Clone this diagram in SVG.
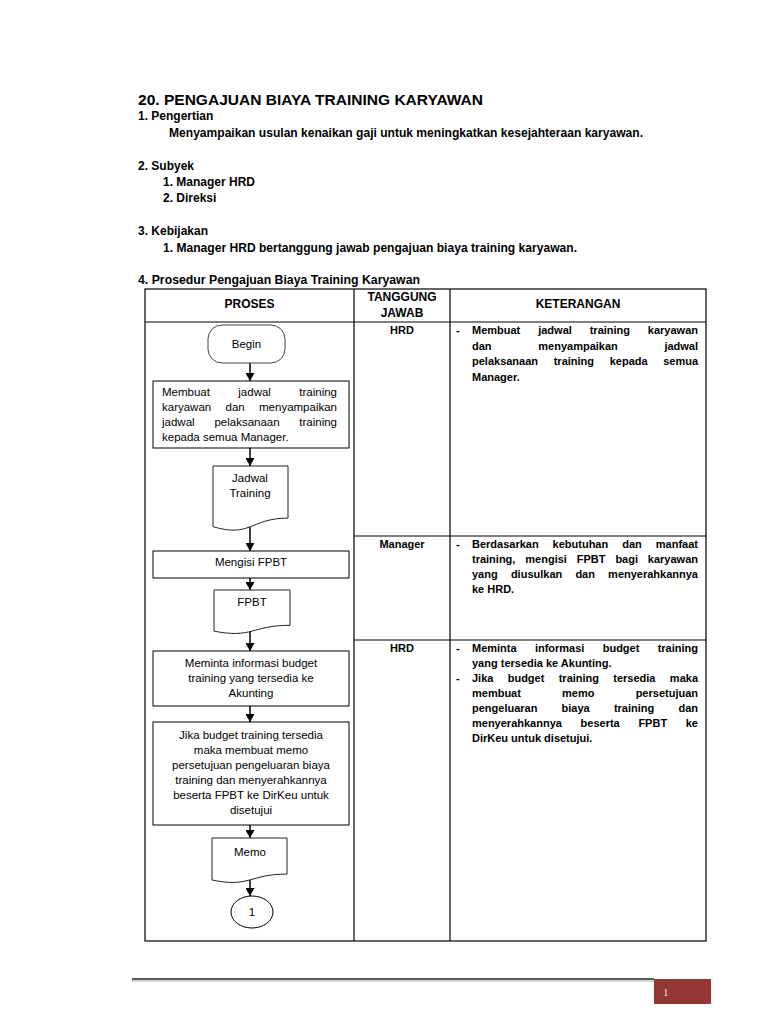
<svg xmlns="http://www.w3.org/2000/svg" width="768" height="1024" viewBox="0 0 768 1024">
<style>
text { font-family: "Liberation Sans", Arial, sans-serif; fill: #000; }
.b { font-weight: bold; }
.ti { font-size: 15.5px; font-weight: bold; }
.s { font-size: 12px; font-weight: bold; }
.h { font-size: 12px; font-weight: bold; text-anchor: middle; }
.k { font-size: 11px; font-weight: bold; }
.f { font-size: 11.5px; }
.c { text-anchor: middle; }
.e { text-anchor: end; }
.box { fill: #fff; stroke: #000; stroke-width: 1; }
.doc { fill: #fff; stroke: #222; stroke-width: 1; }
.grid { stroke: #000; stroke-width: 1.2; fill: none; }
.conn { stroke: #000; stroke-width: 1.5; fill: none; marker-end: url(#ah); }
</style>
<defs>
<marker id="ah" markerUnits="userSpaceOnUse" markerWidth="9" markerHeight="9" refX="8" refY="4.5" orient="auto">
<path d="M0,0 L8,4.5 L0,9 Z" fill="#000"/>
</marker>
</defs>
<rect width="768" height="1024" fill="#fff"/>

<g id="header-text">
<text class="ti" x="138" y="105" textLength="345" lengthAdjust="spacingAndGlyphs">20. PENGAJUAN BIAYA TRAINING KARYAWAN</text>
<text class="s" x="138" y="120">1. Pengertian</text>
<text class="s" x="169" y="137" textLength="474" lengthAdjust="spacingAndGlyphs">Menyampaikan usulan kenaikan gaji untuk meningkatkan kesejahteraan karyawan.</text>
<text class="s" x="138" y="170">2. Subyek</text>
<text class="s" x="163" y="186">1. Manager HRD</text>
<text class="s" x="163" y="202">2. Direksi</text>
<text class="s" x="138" y="235">3. Kebijakan</text>
<text class="s" x="163" y="252" textLength="414" lengthAdjust="spacingAndGlyphs">1. Manager HRD bertanggung jawab pengajuan biaya training karyawan.</text>
<text class="s" x="138" y="284" textLength="282" lengthAdjust="spacingAndGlyphs">4. Prosedur Pengajuan Biaya Training Karyawan</text>
</g>

<g id="table">
<rect class="grid" x="145" y="289" width="561" height="652"/>
<line class="grid" x1="354" y1="289" x2="354" y2="941"/>
<line class="grid" x1="450" y1="289" x2="450" y2="941"/>
<line class="grid" x1="145" y1="322" x2="706" y2="322"/>
<line class="grid" x1="354" y1="536" x2="706" y2="536"/>
<line class="grid" x1="354" y1="640" x2="706" y2="640"/>
<text class="h" x="249.5" y="308">PROSES</text>
<text class="h" x="402" y="301">TANGGUNG</text>
<text class="h" x="402" y="317">JAWAB</text>
<text class="h" x="578" y="308">KETERANGAN</text>
</g>

<g id="row1-text">
<text class="k c" x="402" y="334">HRD</text>
<text class="k" x="456" y="334">-</text>
<text class="k" x="472" y="334">Membuat</text>
<text class="k" x="538.2" y="334">jadwal</text>
<text class="k" x="589.7" y="334">training</text>
<text class="k e" x="698" y="334">karyawan</text>
<text class="k" x="472" y="350">dan</text>
<text class="k" x="538.3" y="350">menyampaikan</text>
<text class="k e" x="698" y="350">jadwal</text>
<text class="k" x="472" y="365">pelaksanaan</text>
<text class="k" x="553.7" y="365">training</text>
<text class="k" x="609.7" y="365">kepada</text>
<text class="k e" x="698" y="365">semua</text>
<text class="k" x="472" y="381">Manager.</text>
</g>

<g id="row2-text">
<text class="k c" x="402" y="548">Manager</text>
<text class="k" x="456" y="548">-</text>
<text class="k" x="472" y="548">Berdasarkan</text>
<text class="k" x="552.6" y="548">kebutuhan</text>
<text class="k" x="622.2" y="548">dan</text>
<text class="k e" x="698" y="548">manfaat</text>
<text class="k" x="472" y="563">training,</text>
<text class="k" x="525.3" y="563">mengisi</text>
<text class="k" x="576.8" y="563">FPBT</text>
<text class="k" x="615.4" y="563">bagi</text>
<text class="k e" x="698" y="563">karyawan</text>
<text class="k" x="472" y="578">yang</text>
<text class="k" x="510.9" y="578">diusulkan</text>
<text class="k" x="575.4" y="578">dan</text>
<text class="k e" x="698" y="578">menyerahkannya</text>
<text class="k" x="472" y="593">ke HRD.</text>
</g>

<g id="row3-text">
<text class="k c" x="402" y="652">HRD</text>
<text class="k" x="456" y="652">-</text>
<text class="k" x="472" y="652">Meminta</text>
<text class="k" x="534.9" y="652">informasi</text>
<text class="k" x="602.7" y="652">budget</text>
<text class="k e" x="698" y="652">training</text>
<text class="k" x="472" y="667">yang tersedia ke Akunting.</text>
<text class="k" x="456" y="682">-</text>
<text class="k" x="472" y="682">Jika</text>
<text class="k" x="507.7" y="682">budget</text>
<text class="k" x="558.7" y="682">training</text>
<text class="k" x="613.3" y="682">tersedia</text>
<text class="k e" x="698" y="682">maka</text>
<text class="k" x="472" y="697">membuat</text>
<text class="k" x="562.1" y="697">memo</text>
<text class="k e" x="698" y="697">persetujuan</text>
<text class="k" x="472" y="712">pengeluaran</text>
<text class="k" x="561.6" y="712">biaya</text>
<text class="k" x="613.9" y="712">training</text>
<text class="k e" x="698" y="712">dan</text>
<text class="k" x="472" y="727">menyerahkannya</text>
<text class="k" x="580.6" y="727">beserta</text>
<text class="k" x="638.4" y="727">FPBT</text>
<text class="k e" x="698" y="727">ke</text>
<text class="k" x="472" y="742">DirKeu untuk disetujui.</text>
</g>

<g id="connectors">
<line class="conn" x1="250" y1="363" x2="250" y2="381"/>
<line class="conn" x1="250" y1="448" x2="250" y2="466"/>
<line class="conn" x1="250" y1="527" x2="250" y2="551"/>
<line class="conn" x1="250" y1="578" x2="250" y2="590"/>
<line class="conn" x1="250" y1="631" x2="250" y2="651"/>
<line class="conn" x1="250" y1="706" x2="250" y2="722"/>
<line class="conn" x1="250" y1="825" x2="250" y2="838"/>
<line class="conn" x1="250" y1="880" x2="250" y2="896"/>
</g>

<g id="begin">
<rect x="208" y="325" width="77" height="38" rx="14" ry="14" fill="#fff" stroke="#444" stroke-width="1"/>
<text class="f c" x="246.5" y="348">Begin</text>
</g>

<g id="membuat-jadwal">
<rect class="box" x="153" y="381" width="196" height="67"/>
<text class="f" x="162" y="396">Membuat</text>
<text class="f" x="238.3" y="396">jadwal</text>
<text class="f e" x="337" y="396">training</text>
<text class="f" x="162" y="411">karyawan</text>
<text class="f" x="225.5" y="411">dan</text>
<text class="f e" x="337" y="411">menyampaikan</text>
<text class="f" x="162" y="426">jadwal</text>
<text class="f" x="214.4" y="426">pelaksanaan</text>
<text class="f e" x="337" y="426">training</text>
<text class="f" x="162" y="441">kepada semua Manager.</text>
</g>

<g id="jadwal-training">
<path class="doc" d="M213,466 H288 V518.1 C250.5,518.1 250.5,538 213,526.7 Z"/>
<text class="f c" x="250" y="482">Jadwal</text>
<text class="f c" x="250" y="497">Training</text>
</g>

<g id="mengisi-fpbt">
<rect class="box" x="153" y="551" width="196" height="27"/>
<text class="f c" x="251" y="566">Mengisi FPBT</text>
</g>

<g id="fpbt">
<path class="doc" d="M214,590 H290 V625.3 C252,625.3 252,638.8 214,631.1 Z"/>
<text class="f c" x="252" y="606">FPBT</text>
</g>

<g id="meminta-info">
<rect class="box" x="153" y="651" width="196" height="55"/>
<text class="f c" x="251" y="667">Meminta informasi budget</text>
<text class="f c" x="251" y="682">training yang tersedia ke</text>
<text class="f c" x="251" y="697">Akunting</text>
</g>

<g id="membuat-memo">
<rect class="box" x="153" y="722" width="196" height="103"/>
<text class="f c" x="251" y="739">Jika budget training tersedia</text>
<text class="f c" x="251" y="754">maka membuat memo</text>
<text class="f c" x="251" y="769">persetujuan pengeluaran biaya</text>
<text class="f c" x="251" y="784">training dan menyerahkannya</text>
<text class="f c" x="251" y="799">beserta FPBT  ke DirKeu untuk</text>
<text class="f c" x="251" y="814">disetujui</text>
</g>

<g id="memo">
<path class="doc" d="M212,838 H287 V874.1 C249.5,874.1 249.5,887.9 212,880 Z"/>
<text class="f c" x="250" y="856">Memo</text>
</g>

<g id="connector-1">
<ellipse cx="252" cy="912" rx="21" ry="16" fill="#fff" stroke="#000" stroke-width="1"/>
<text class="f c" x="252" y="916">1</text>
</g>

<g id="footer">
<line x1="132" y1="981" x2="654" y2="981" stroke="#aaa" stroke-width="1"/>
<line x1="132" y1="979" x2="654" y2="979" stroke="#222" stroke-width="1.5"/>
<rect x="654" y="979" width="57" height="25" fill="#943634"/>
<text x="663" y="996" style="font-family:'Liberation Serif', serif; font-size:11px; fill:#f2dcdb">1</text>
</g>
</svg>
